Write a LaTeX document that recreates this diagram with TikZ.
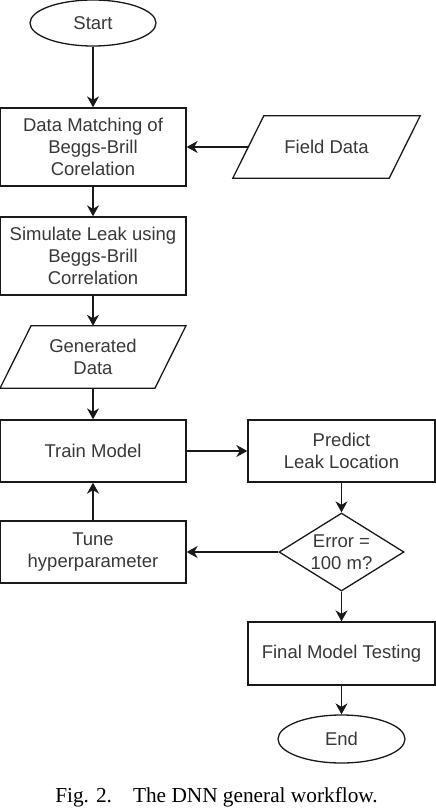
\documentclass[tikz,border=0pt]{standalone}
\usepackage{fontspec}
\setmainfont{Liberation Sans}
\newfontfamily\capfont{Liberation Serif}
\usetikzlibrary{shapes.geometric,arrows.meta}
\begin{document}
\begin{tikzpicture}[x=1pt,y=-1pt,
  line/.style={draw=black!90, line width=1.3pt},
  arr/.style={line, -{Stealth[length=11pt,width=12pt,inset=3.5pt]}},
  txt/.style={inner sep=0pt, align=center, text=black!78, font=\fontsize{18.5}{22.3}\selectfont},
  box/.style={txt, line, rectangle},
  term/.style={txt, line, ellipse},
  para/.style={txt},
]
\useasboundingbox (0,0) rectangle (436,808);

\node[term, minimum width=126pt, minimum height=46pt] (start) at (93,23) {Start};
\node[box, minimum width=186pt, minimum height=78pt] (b1) at (93,147) {Data Matching of\\Beggs-Brill\\Corelation};
\node[para, minimum width=156pt, minimum height=62pt] (fd) at (326.5,147) {Field Data};
\draw[line] ([xshift=15.5pt]fd.north west) -- ([xshift=15.5pt]fd.north east) -- ([xshift=-15.5pt]fd.south east) -- ([xshift=-15.5pt]fd.south west) -- cycle;
\node[box, minimum width=186pt, minimum height=78pt] (b2) at (93,256) {Simulate Leak using\\Beggs-Brill\\Correlation};
\node[para, minimum width=154.5pt, minimum height=62pt] (gen) at (93,357) {Generated\\Data};
\draw[line] ([xshift=15.5pt]gen.north west) -- ([xshift=15.5pt]gen.north east) -- ([xshift=-15.5pt]gen.south east) -- ([xshift=-15.5pt]gen.south west) -- cycle;
\node[box, minimum width=186pt, minimum height=62pt] (train) at (93,451) {Train Model};
\node[box, minimum width=187pt, minimum height=62pt] (pred) at (341.5,451) {Predict\\Leak Location};
\node[line, diamond, minimum width=125pt, minimum height=78pt, inner sep=0pt, aspect=1.6] (err) at (341.5,552) {};
\node[txt] (errtxt) at (err.center) {Error =\\100 m?};
\node[box, minimum width=186pt, minimum height=62pt] (tune) at (93,552) {Tune\\hyperparameter};
\node[box, minimum width=187pt, minimum height=63pt] (final) at (341.5,653.5) {Final Model Testing};
\node[term, minimum width=127pt, minimum height=48pt] (end) at (341.5,739) {End};

\draw[arr] (start) -- (b1);
\draw[arr] (fd.west) -- (b1.east);
\draw[arr] (b1) -- (b2);
\draw[arr] (b2) -- (gen);
\draw[arr] (gen) -- (train);
\draw[arr] (train) -- (pred);
\draw[arr] (pred) -- (err);
\draw[arr] (err.west) -- (tune.east);
\draw[arr] (tune) -- (train);
\draw[arr] (err.south) -- (final.north);
\draw[arr] (final) -- (end);

\node[anchor=base, inner sep=0pt, font=\capfont\fontsize{21.3}{25}\selectfont] (cap) at (216.5,802) {Fig. 2.\hspace{21pt}The DNN general workflow.};
\end{tikzpicture}
\end{document}
